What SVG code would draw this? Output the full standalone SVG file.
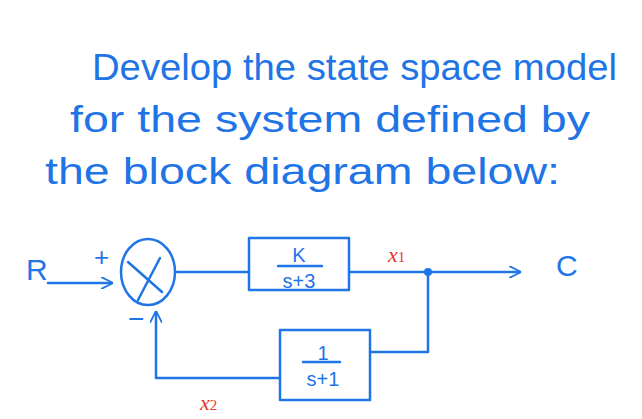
<svg xmlns="http://www.w3.org/2000/svg" width="642" height="419" viewBox="0 0 642 419">
<defs>
<style>
.b{stroke:#1f74e6;stroke-width:2.5;fill:none;stroke-linecap:round;stroke-linejoin:round}
.t{fill:#1f74e6;font-family:"Liberation Sans",sans-serif}
.h{font-size:36px}
.r{fill:#e8372a;font-family:"Liberation Serif",serif;font-style:italic}
</style>
<marker id="ah" viewBox="0 0 10 10" refX="9" refY="5" markerWidth="12" markerHeight="12" orient="auto" markerUnits="userSpaceOnUse"><path d="M0,0 L10,5 L0,10" fill="none" stroke="#1f74e6" stroke-width="1.5"/></marker>
</defs>
<rect width="642" height="419" fill="#fff"/>
<g id="title">
<text class="t h" x="92" y="80" textLength="525" lengthAdjust="spacingAndGlyphs">Develop the state space model</text>
<text class="t h" x="70" y="132" textLength="520" lengthAdjust="spacingAndGlyphs">for the system defined by</text>
<text class="t h" x="45" y="184" textLength="515" lengthAdjust="spacingAndGlyphs">the block diagram below:</text>
</g>
<g id="sum"><ellipse class="b" cx="148" cy="272" rx="27" ry="33"/><path class="b" d="M128,262 L162,292 M160,258 L138,300"/>
<text class="t" x="94" y="266" font-size="26">+</text><text class="t" x="128" y="328" font-size="28">−</text></g>
<g id="R"><text class="t" x="26" y="280" font-size="30">R</text></g>
<g id="G1"><rect class="b" x="249" y="238" width="100" height="52"/>
<text class="t" x="299" y="262" font-size="20" text-anchor="middle">K</text><line class="b" x1="278" y1="266" x2="322" y2="266"/>
<text class="t" x="299" y="288" font-size="20" text-anchor="middle">s+3</text></g>
<g id="G2"><rect class="b" x="280" y="330" width="90" height="70"/>
<text class="t" x="323" y="360" font-size="20" text-anchor="middle">1</text><line class="b" x1="303" y1="362" x2="340" y2="362"/>
<text class="t" x="323" y="386" font-size="20" text-anchor="middle">s+1</text></g>
<g id="C"><text class="t" x="556" y="276" font-size="30">C</text></g>
<g id="labels"><text class="r" x="388" y="262" font-size="22">x<tspan font-size="15" font-style="normal">1</tspan></text><text class="r" x="200" y="410" font-size="22">x<tspan font-size="15" font-style="normal">2</tspan></text></g>
<g id="connectors">
<path class="b" d="M48,283 L112,283" marker-end="url(#ah)"/>
<path class="b" d="M175,272 L249,272"/>
<path class="b" d="M349,272 L520,272" marker-end="url(#ah)"/>
<circle cx="428" cy="272" r="4" fill="#1f74e6"/>
<path class="b" d="M428,272 L428,352 L370,352"/>
<path class="b" d="M280,378 L156,378 L156,312" marker-end="url(#ah)"/>
</g>
</svg>
